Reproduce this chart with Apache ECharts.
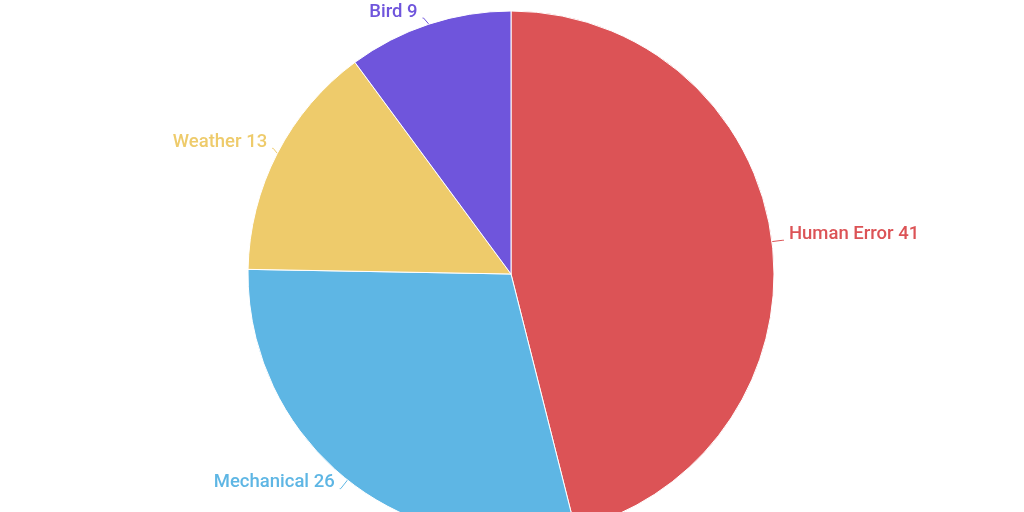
<!DOCTYPE html>
<html>
<head>
<meta charset="utf-8">
<script src="https://cdn.jsdelivr.net/npm/echarts@6/dist/echarts.min.js"></script>
<style>
  html, body { margin: 0; padding: 0; background: #fff; }
  #chart { width: 1024px; height: 512px; }
</style>
</head>
<body>
<div id="chart"></div>
<script>
// data
const causes = ['Human Error', 'Mechanical', 'Weather', 'Bird']
const counts = [41, 26, 13, 9]
const colors = ['#dc5356', '#5eb6e4', '#eecb6b', '#6f55dc']

const myChart = echarts.init(document.getElementById('chart'))

const option = {
  animation: false,
  color: colors,
  series: [
    {
      type: 'pie',
      center: [511, 274],
      radius: 263,
      startAngle: 90,
      clockwise: true,
      itemStyle: { borderColor: '#fff', borderWidth: 1 },
      label: {
        // empty second line lifts the text a few px above the line end
        formatter: '{b} {c}\n{s| }',
        fontFamily: 'Roboto',
        fontSize: 18.5,
        fontWeight: 500,
        lineHeight: 22,
        color: 'inherit',
        rich: { s: { fontSize: 1, lineHeight: 12 } }
      },
      labelLine: { length: 11, length2: 1, lineStyle: { width: 1 } },
      data: causes.map((name, i) => {
        const d = { name: name, value: counts[i] }
        // the small top slice has a longer leader in the original
        if (name === 'Bird') d.labelLine = { length: 17, length2: 1 }
        return d
      })
    }
  ]
}

myChart.setOption(option)
</script>
</body>
</html>
